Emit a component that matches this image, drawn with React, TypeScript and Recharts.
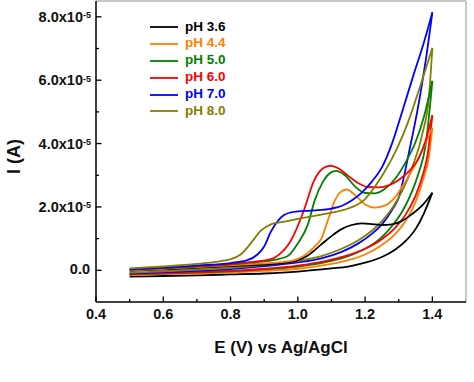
import React from 'react';
import { LineChart, Line, XAxis, YAxis, ReferenceLine, Legend } from 'recharts';

const FONT = '"Liberation Sans", Arial, Helvetica, sans-serif';

// Potential E (V vs Ag/AgCl), current I in units of 1e-5 A
const seriesNames = ['pH 3.6', 'pH 4.4', 'pH 5.0', 'pH 6.0', 'pH 7.0', 'pH 8.0'];
const seriesColors = ['#000000', '#FF8000', '#008000', '#FF0000', '#0000FF', '#808000'];

// forward (anodic) scans
const ph36Fwd: [number, number][] = [
  [0.5, -0.02], [0.6, 0.03], [0.7, 0.08], [0.8, 0.13], [0.9, 0.18], [0.95, 0.22], [1.0, 0.32],
  [1.03, 0.47], [1.07, 0.82], [1.1, 1.08], [1.13, 1.3], [1.16, 1.43], [1.19, 1.48], [1.22, 1.46],
  [1.25, 1.43], [1.28, 1.45], [1.31, 1.56], [1.34, 1.78], [1.37, 2.05], [1.4, 2.45],
];
const ph44Fwd: [number, number][] = [
  [0.5, 0.0], [0.6, 0.05], [0.7, 0.1], [0.8, 0.16], [0.9, 0.22], [0.95, 0.26], [0.98, 0.3],
  [1.0, 0.36], [1.03, 0.55], [1.05, 0.75], [1.07, 1.0], [1.09, 1.6], [1.11, 2.2], [1.125, 2.45],
  [1.145, 2.55], [1.17, 2.38], [1.2, 2.08], [1.23, 1.98], [1.26, 2.05], [1.29, 2.32], [1.32, 2.8],
  [1.35, 3.35], [1.375, 3.9], [1.4, 4.5],
];
const ph50Fwd: [number, number][] = [
  [0.5, 0.02], [0.6, 0.07], [0.7, 0.12], [0.8, 0.19], [0.88, 0.26], [0.93, 0.33], [0.97, 0.45],
  [1.0, 0.85], [1.03, 1.45], [1.05, 2.2], [1.075, 2.8], [1.1, 3.1], [1.115, 3.14], [1.14, 3.0],
  [1.17, 2.65], [1.2, 2.44], [1.23, 2.43], [1.26, 2.58], [1.29, 2.9], [1.32, 3.4], [1.35, 4.05],
  [1.375, 4.85], [1.4, 5.98],
];
const ph60Fwd: [number, number][] = [
  [0.5, 0.02], [0.6, 0.07], [0.7, 0.13], [0.8, 0.2], [0.85, 0.25], [0.92, 0.35], [0.95, 0.55],
  [0.97, 0.78], [0.995, 1.28], [1.02, 1.95], [1.047, 2.8], [1.075, 3.22], [1.097, 3.3], [1.12, 3.22],
  [1.15, 2.98], [1.18, 2.75], [1.21, 2.63], [1.24, 2.62], [1.27, 2.68], [1.3, 2.85], [1.33, 3.12],
  [1.36, 3.55], [1.38, 4.1], [1.4, 4.9],
];
const ph70Fwd: [number, number][] = [
  [0.5, 0.03], [0.6, 0.08], [0.7, 0.15], [0.8, 0.23], [0.85, 0.32], [0.88, 0.5], [0.9, 0.75],
  [0.92, 1.22], [0.94, 1.55], [0.96, 1.75], [0.98, 1.83], [1.0, 1.86], [1.05, 1.89], [1.1, 1.95],
  [1.13, 2.03], [1.16, 2.2], [1.19, 2.45], [1.22, 2.8], [1.25, 3.25], [1.28, 4.0], [1.31, 5.0],
  [1.345, 6.2], [1.375, 7.2], [1.4, 8.14],
];
const ph80Fwd: [number, number][] = [
  [0.5, 0.06], [0.6, 0.12], [0.7, 0.2], [0.75, 0.26], [0.8, 0.35], [0.83, 0.5], [0.86, 0.85],
  [0.89, 1.25], [0.92, 1.45], [0.95, 1.52], [1.0, 1.62], [1.05, 1.72], [1.1, 1.82], [1.15, 1.95],
  [1.2, 2.25], [1.23, 2.65], [1.26, 3.15], [1.295, 3.85], [1.325, 4.6], [1.365, 5.85], [1.4, 7.02],
];

// reverse (cathodic) scans, listed by increasing potential
const ph36Rev: [number, number][] = [
  [0.5, -0.2], [0.6, -0.18], [0.7, -0.16], [0.8, -0.13], [0.9, -0.1], [1.0, -0.04], [1.1, 0.06],
  [1.15, 0.12], [1.2, 0.24], [1.25, 0.42], [1.29, 0.66], [1.32, 0.92], [1.35, 1.3], [1.375, 1.8],
  [1.4, 2.45],
];
const ph44Rev: [number, number][] = [
  [0.5, -0.15], [0.6, -0.12], [0.7, -0.1], [0.8, -0.07], [0.9, -0.02], [1.0, 0.05], [1.1, 0.2],
  [1.15, 0.32], [1.2, 0.5], [1.25, 0.8], [1.29, 1.15], [1.32, 1.55], [1.35, 2.15], [1.375, 2.95],
  [1.39, 3.6], [1.4, 4.5],
];
const ph50Rev: [number, number][] = [
  [0.5, -0.13], [0.6, -0.1], [0.7, -0.07], [0.8, -0.03], [0.9, 0.03], [1.0, 0.12], [1.1, 0.3],
  [1.15, 0.45], [1.2, 0.68], [1.25, 1.05], [1.28, 1.4], [1.31, 1.85], [1.34, 2.5], [1.36, 3.1],
  [1.38, 3.95], [1.4, 5.98],
];
const ph60Rev: [number, number][] = [
  [0.5, -0.12], [0.6, -0.09], [0.7, -0.06], [0.8, -0.02], [0.9, 0.05], [1.0, 0.15], [1.1, 0.34],
  [1.15, 0.48], [1.2, 0.68], [1.25, 0.98], [1.29, 1.35], [1.32, 1.75], [1.35, 2.35], [1.37, 2.95],
  [1.385, 3.6], [1.4, 4.9],
];
const ph70Rev: [number, number][] = [
  [0.5, -0.1], [0.6, -0.06], [0.7, -0.02], [0.8, 0.04], [0.9, 0.13], [1.0, 0.25], [1.07, 0.38],
  [1.13, 0.58], [1.18, 0.85], [1.22, 1.15], [1.25, 1.45], [1.28, 1.9], [1.3, 2.3], [1.33, 3.7],
  [1.36, 5.3], [1.38, 6.6], [1.4, 8.14],
];
const ph80Rev: [number, number][] = [
  [0.5, -0.08], [0.6, -0.03], [0.7, 0.02], [0.8, 0.08], [0.9, 0.17], [1.0, 0.3], [1.07, 0.45],
  [1.13, 0.68], [1.18, 0.95], [1.22, 1.25], [1.25, 1.55], [1.28, 1.95], [1.31, 2.5], [1.34, 3.25],
  [1.37, 4.3], [1.39, 5.5], [1.4, 7.02],
];

const forwardScans = [ph36Fwd, ph44Fwd, ph50Fwd, ph60Fwd, ph70Fwd, ph80Fwd];
const reverseScans = [ph36Rev, ph44Rev, ph50Rev, ph60Rev, ph70Rev, ph80Rev];

const xTicks = [0.4, 0.5, 0.6, 0.7, 0.8, 0.9, 1.0, 1.1, 1.2, 1.3, 1.4];
const xMajor = [0.4, 0.6, 0.8, 1.0, 1.2, 1.4];
const yTicks = [0, 1, 2, 3, 4, 5, 6, 7, 8];
const yMajor = [0, 2, 4, 6, 8];

const toPts = (arr: [number, number][]) => arr.map(([E, I]) => ({ E, I }));
const isIn = (v: number, list: number[]) => list.some((m) => Math.abs(m - v) < 1e-6);

const XTick = (props: any) => {
  const { x, y, payload } = props;
  const major = isIn(payload.value, xMajor);
  return (
    <g>
      <line x1={x} y1={y} x2={x} y2={y - (major ? 5.5 : 3)} stroke="#000" strokeWidth={1.3} />
      {major && (
        <text x={x} y={y + 17} textAnchor="middle" fontFamily={FONT} fontWeight={700} fontSize={14.5} fill="#111">
          {payload.value.toFixed(1)}
        </text>
      )}
    </g>
  );
};

const YTick = (props: any) => {
  const { x, y, payload } = props;
  const v = payload.value;
  const major = isIn(v, yMajor);
  return (
    <g>
      <line x1={x} y1={y} x2={x + (major ? 5.5 : 3)} y2={y} stroke="#000" strokeWidth={1.3} />
      {major && (
        v === 0 ? (
          <text x={x - 6} y={y + 4} textAnchor="end" fontFamily={FONT} fontWeight={700} fontSize={14.5} fill="#111">0.0</text>
        ) : (
          <text x={x - 5} y={y + 5} textAnchor="end" fontFamily={FONT} fontWeight={700} fontSize={14.5} fill="#111">
            <tspan>{v.toFixed(1)}x10</tspan>
            <tspan dy={-3.5} fontSize={9}>-5</tspan>
          </text>
        )
      )}
    </g>
  );
};

const renderLegend = () => (
  <div style={{ fontFamily: FONT, fontWeight: 700, fontSize: 13.5 }}>
    {seriesNames.map((name, i) => (
      <div key={name} style={{ display: 'flex', alignItems: 'center', height: 16.9 }}>
        <svg width={28} height={4} style={{ display: 'block' }}>
          <line x1={0} y1={2} x2={28} y2={2} stroke={seriesColors[i]} strokeWidth={1.8} />
        </svg>
        <span style={{ marginLeft: 7, color: seriesColors[i], lineHeight: '16.9px', whiteSpace: 'nowrap' }}>{name}</span>
      </div>
    ))}
  </div>
);

const renderXLabel = (props: any) => {
  const vb = props.viewBox || { x: 96, y: 302, width: 370, height: 80 };
  const cx = vb.x + vb.width / 2;
  return (
    <text x={cx} y={vb.y + 51} textAnchor="middle" fontFamily={FONT} fontWeight={700} fontSize={17} fill="#111">
      E (V) vs Ag/AgCl
    </text>
  );
};

const renderYLabel = (props: any) => {
  const vb = props.viewBox || { x: 0, y: 1, width: 96, height: 301 };
  const cx = vb.x + 20;
  const cy = vb.y + vb.height / 2 + 5;
  return (
    <text x={cx} y={cy} transform={`rotate(-90, ${cx}, ${cy})`} textAnchor="middle" fontFamily={FONT} fontWeight={700} fontSize={18} fill="#111">
      I (A)
    </text>
  );
};

export default function App() {
  return (
    <div style={{ position: 'absolute', left: 0, top: 0, width: 474, height: 382, background: '#fff' }}>
      <LineChart width={474} height={382} margin={{ top: 1, right: 8, bottom: 0, left: 0 }}>
        <XAxis
          type="number"
          dataKey="E"
          domain={[0.4, 1.5]}
          allowDataOverflow
          ticks={xTicks}
          interval={0}
          tick={<XTick />}
          tickLine={false}
          tickSize={0}
          tickMargin={0}
          height={80}
          axisLine={{ stroke: '#000', strokeWidth: 1.5 }}
          label={renderXLabel}
        />
        <YAxis
          type="number"
          dataKey="I"
          domain={[-1, 8.5]}
          allowDataOverflow
          ticks={yTicks}
          interval={0}
          tick={<YTick />}
          tickLine={false}
          tickSize={0}
          tickMargin={0}
          width={96}
          axisLine={{ stroke: '#000', strokeWidth: 1.5 }}
          label={renderYLabel}
        />
        <ReferenceLine y={8.5} stroke="#b4b4b4" strokeWidth={1.5} />
        <ReferenceLine x={1.5} stroke="#b4b4b4" strokeWidth={1.5} />
        {seriesNames.map((name, i) => (
          <Line
            key={name + '-rev'}
            data={toPts(reverseScans[i])}
            dataKey="I"
            type="monotone"
            stroke={seriesColors[i]}
            strokeWidth={1.8}
            dot={false}
            activeDot={false}
            legendType="none"
            isAnimationActive={false}
          />
        ))}
        {seriesNames.map((name, i) => (
          <Line
            key={name + '-fwd'}
            name={name}
            data={toPts(forwardScans[i])}
            dataKey="I"
            type="monotone"
            stroke={seriesColors[i]}
            strokeWidth={1.8}
            dot={false}
            activeDot={false}
            isAnimationActive={false}
          />
        ))}
        <Legend
          layout="vertical"
          align="center"
          verticalAlign="middle"
          content={renderLegend}
          wrapperStyle={{ left: 150, top: 18.5, width: 120, height: 105, margin: 0, padding: 0 }}
        />
      </LineChart>
    </div>
  );
}
